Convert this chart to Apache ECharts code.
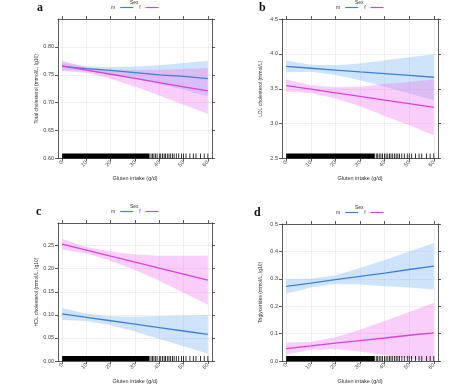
<!DOCTYPE html>
<html><head><meta charset="utf-8">
<script src="https://cdn.jsdelivr.net/npm/echarts@6/dist/echarts.min.js"></script>
<style>html,body{margin:0;padding:0;background:#fff}#c{width:474px;height:385px}</style>
</head><body><div id="c"></div>
<script>
// ---- data ----
const xKnots = [0, 10, 20, 30, 40, 50, 60];
const xTicks = [0, 10, 20, 30, 40, 50, 60];
const sexLabels = ['m', 'f'];

// a: Total cholesterol
const tcM   = [0.765, 0.761, 0.758, 0.754, 0.750, 0.747, 0.743];
const tcMLo = [0.758, 0.757, 0.752, 0.743, 0.733, 0.723, 0.711];
const tcMHi = [0.772, 0.765, 0.764, 0.765, 0.767, 0.771, 0.775];
const tcF   = [0.766, 0.7585, 0.751, 0.7435, 0.736, 0.7285, 0.721];
const tcFLo = [0.757, 0.7535, 0.743, 0.7285, 0.713, 0.6965, 0.680];
const tcFHi = [0.775, 0.7635, 0.759, 0.7585, 0.759, 0.7605, 0.762];

// b: LDL cholesterol
const ldlM   = [3.82, 3.794, 3.768, 3.742, 3.717, 3.691, 3.665];
const ldlMLo = [3.735, 3.744, 3.698, 3.622, 3.527, 3.431, 3.335];
const ldlMHi = [3.905, 3.844, 3.838, 3.862, 3.907, 3.951, 3.995];
const ldlF   = [3.546, 3.494, 3.442, 3.39, 3.338, 3.286, 3.234];
const ldlFLo = [3.461, 3.439, 3.362, 3.25, 3.108, 2.976, 2.834];
const ldlFHi = [3.631, 3.549, 3.522, 3.53, 3.568, 3.596, 3.634];

// c: HDL cholesterol
const hdlM   = [0.102, 0.0946, 0.0872, 0.0798, 0.0724, 0.065, 0.0575];
const hdlMLo = [0.089, 0.0866, 0.0772, 0.0638, 0.0474, 0.032, 0.0155];
const hdlMHi = [0.115, 0.1026, 0.0972, 0.0958, 0.0974, 0.098, 0.0995];
const hdlF   = [0.253, 0.240, 0.227, 0.214, 0.201, 0.188, 0.175];
const hdlFLo = [0.2415, 0.233, 0.217, 0.197, 0.174, 0.148, 0.122];
const hdlFHi = [0.2645, 0.247, 0.237, 0.231, 0.228, 0.228, 0.228];

// d: Triglycerides
const tgM   = [0.272, 0.284, 0.297, 0.309, 0.321, 0.334, 0.346];
const tgMLo = [0.245, 0.268, 0.281, 0.279, 0.273, 0.268, 0.261];
const tgMHi = [0.299, 0.300, 0.313, 0.339, 0.369, 0.400, 0.431];
const tgF   = [0.0455, 0.055, 0.065, 0.0745, 0.084, 0.094, 0.103];
const tgFLo = [0.0235, 0.041, 0.043, 0.0345, 0.022, 0.009, -0.007];
const tgFHi = [0.0675, 0.069, 0.087, 0.1145, 0.146, 0.179, 0.213];

// rug of gluten intake observations: dense run + individual values
const rugDense = [[0, 36]];
const rugTicks = [36.6, 37.2, 37.8, 38.5, 39.1, 40, 40.6, 41.3, 42, 42.6, 43.3, 44, 44.7, 45.4, 46.1, 47, 48, 49.2, 50, 51, 52.6, 54, 55.1, 57, 58.5, 60];

// y axis settings per panel
const yMins = [0.60, 2.5, 0.0, 0.0];
const yMaxs = [0.85, 4.5, 0.299, 0.5];
const yIntervals = [0.05, 0.5, 0.05, 0.1];
const yDecimals = [2, 1, 2, 1];
const yTitles = ['Total cholesterol (mmol/L, lg10)', 'LDL cholesterol (mmol/L)', 'HDL cholesterol (mmol/L, lg10)', 'Triglycerides (mmol/L, lg10)'];
const panelLetters = ['a', 'b', 'c', 'd'];
const xTitle = 'Gluten intake (g/d)';

const panels = [
  {m: tcM, mLo: tcMLo, mHi: tcMHi, f: tcF, fLo: tcFLo, fHi: tcFHi},
  {m: ldlM, mLo: ldlMLo, mHi: ldlMHi, f: ldlF, fLo: ldlFLo, fHi: ldlFHi},
  {m: hdlM, mLo: hdlMLo, mHi: hdlMHi, f: hdlF, fLo: hdlFLo, fHi: hdlFHi},
  {m: tgM, mLo: tgMLo, mHi: tgMHi, f: tgF, fLo: tgFLo, fHi: tgFHi}
];

// ---- layout / style ----
const grids = [
  {left: 58, top: 19, width: 154, height: 139.5},
  {left: 282, top: 19, width: 156, height: 139.5},
  {left: 58, top: 223, width: 154, height: 141},
  {left: 282, top: 224, width: 156, height: 140}
];
const BLUE = '#3d80d8', PINK = '#dd3fdd';
const BLUE_BAND = 'rgba(120,180,245,0.36)', PINK_BAND = 'rgba(240,120,240,0.36)';
const FONT = 'Liberation Sans';
const axisCol = '#333';

const xAxes = [], yAxes = [], series = [], legends = [], graphics = [];
grids.forEach((g, i) => {
  const common = {gridIndex: i, type: 'value', min: -1.7, max: 61.7,
    axisLine: {show: true, onZero: false, lineStyle: {color: axisCol, width: 0.8}},
    axisTick: {show: true, customValues: xTicks, length: 3, inside: false, lineStyle: {color: axisCol, width: 0.8}}};
  xAxes.push(Object.assign({}, common, {position: 'bottom',
    axisLabel: {customValues: xTicks, rotate: 45, fontSize: 5.5, color: '#444', margin: 3, fontFamily: FONT},
    splitLine: {show: true, lineStyle: {color: '#e6e6e6', width: 0.6}},
    name: xTitle, nameLocation: 'middle', nameGap: 17,
    nameTextStyle: {fontSize: 5.5, color: '#333', fontFamily: FONT}}));
  xAxes.push(Object.assign({}, common, {position: 'top', axisLabel: {show: false}, splitLine: {show: false}}));
  const yc = {gridIndex: i, type: 'value', min: yMins[i], max: yMaxs[i], interval: yIntervals[i],
    axisLine: {show: true, onZero: false, lineStyle: {color: axisCol, width: 0.8}},
    axisTick: {show: true, length: 3, inside: false, lineStyle: {color: axisCol, width: 0.8}}};
  const showMax = (i === 1 || i === 3);
  yAxes.push(Object.assign({}, yc, {position: 'left',
    axisLabel: {fontSize: 5.5, color: '#444', margin: 4, fontFamily: FONT, showMaxLabel: showMax,
      formatter: v => v.toFixed(yDecimals[i])},
    splitLine: {show: true, lineStyle: {color: '#e6e6e6', width: 0.6}},
    name: yTitles[i], nameLocation: 'middle', nameGap: 19,
    nameTextStyle: {fontSize: 5, color: '#333', fontFamily: FONT}}));
  yAxes.push(Object.assign({}, yc, {position: 'right', axisLabel: {show: false}, splitLine: {show: false},
    axisTick: {show: true, length: 3, inside: false, lineStyle: {color: axisCol, width: 0.8}}}));

  const p = panels[i];
  const xi = i * 2, yi = i * 2;
  const band = (lo, hi, fill, nm) => ({
    type: 'custom', name: nm, xAxisIndex: xi, yAxisIndex: yi, clip: true, silent: true, z: 1,
    data: [[0]],
    renderItem: (params, api) => {
      const pts = [];
      for (let k = 0; k < xKnots.length; k++) pts.push(api.coord([xKnots[k], hi[k]]));
      for (let k = xKnots.length - 1; k >= 0; k--) pts.push(api.coord([xKnots[k], lo[k]]));
      return {type: 'polygon', shape: {points: pts}, style: {fill: fill}};
    }
  });
  series.push(band(p.mLo, p.mHi, BLUE_BAND, 'm band'));
  series.push(band(p.fLo, p.fHi, PINK_BAND, 'f band'));
  series.push({type: 'line', name: sexLabels[0], xAxisIndex: xi, yAxisIndex: yi, showSymbol: false,
    color: BLUE, lineStyle: {color: BLUE, width: 1.3}, z: 3, silent: true,
    data: xKnots.map((x, k) => [x, p.m[k]])});
  series.push({type: 'line', name: sexLabels[1], xAxisIndex: xi, yAxisIndex: yi, showSymbol: false,
    color: PINK, lineStyle: {color: PINK, width: 1.3}, z: 3, silent: true,
    data: xKnots.map((x, k) => [x, p.f[k]])});
  const rugData = rugDense.map(r => [r[0], r[1]]).concat(rugTicks.map(t => [t, t]));
  series.push({type: 'custom', name: 'rug', xAxisIndex: xi, yAxisIndex: yi, silent: true, z: 4,
    data: rugData,
    renderItem: (params, api) => {
      const a = api.coord([api.value(0), yMins[i]]);
      const b = api.coord([api.value(1), yMins[i]]);
      const w = Math.max(0.8, b[0] - a[0]);
      return {type: 'rect', shape: {x: a[0] - (b[0] === a[0] ? 0.4 : 0), y: a[1] - 5, width: w, height: 5},
        style: {fill: '#000'}};
    }});

  const cx = g.left + g.width / 2;
  legends.push({show: true, data: sexLabels, top: 5, left: cx - 24, orient: 'horizontal',
    icon: 'rect', itemWidth: 13, itemHeight: 1.2, itemGap: 6, align: 'right',
    selectedMode: false, textStyle: {fontSize: 5, color: '#333', fontFamily: FONT, padding: [0, 0, 0, 0]},
    padding: 0});
  graphics.push({type: 'text', left: cx - 5, top: g.top - 19, style: {text: 'Sex', fontSize: 5, fill: '#333', fontFamily: FONT}});
});
// legend vertical positions follow each panel
legends[0].top = 5; legends[1].top = 5; legends[2].top = 209; legends[3].top = 210;
graphics[2].top = 204; graphics[3].top = 205;
graphics[0].top = 0; graphics[1].top = 0;
// panel letters
const letterPos = [[37, 2], [259, 2], [36, 206], [254, 207]];
panelLetters.forEach((L, i) => graphics.push({type: 'text', left: letterPos[i][0], top: letterPos[i][1],
  style: {text: L, fontSize: 12, fontWeight: 'bold', fill: '#111', fontFamily: 'Liberation Serif'}}));

const chart = echarts.init(document.getElementById('c'), null, {renderer: 'canvas'});
chart.setOption({
  animation: false,
  backgroundColor: '#fff',
  grid: grids.map(g => Object.assign({containLabel: false}, g)),
  xAxis: xAxes, yAxis: yAxes, series: series, legend: legends, graphic: graphics
});
</script></body></html>
